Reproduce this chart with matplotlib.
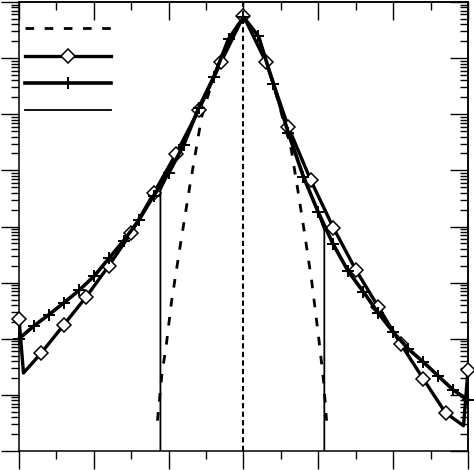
import matplotlib
matplotlib.use("Agg")
import matplotlib.pyplot as plt
from matplotlib.lines import Line2D
from matplotlib.ticker import MultipleLocator, LogLocator, NullFormatter
import numpy as np

# values, stored as log10(y)
x_cross = [-3.0, -2.8, -2.6, -2.4, -2.2, -2.0, -1.8, -1.6, -1.4, -1.2, -1.0,
           -0.8, -0.6, -0.4, -0.2, 0.0, 0.2, 0.4, 0.6, 0.8, 1.0,
           1.2, 1.4, 1.6, 1.8, 2.0, 2.2, 2.4, 2.6, 2.8, 3.0]
cross_log = [-6.00, -5.77, -5.57, -5.36, -5.14, -4.89, -4.57, -4.25, -3.89, -3.45, -3.05,
             -2.55, -1.89, -1.34, -0.66, -0.27, -0.61, -1.46, -2.34, -3.11, -3.75,
             -4.32, -4.80, -5.16, -5.54, -5.88, -6.18, -6.41, -6.66, -6.91, -7.09]

x_dia = [-3.0, -2.94, -2.7, -2.4, -2.1, -1.8, -1.5, -1.2, -0.9, -0.6, -0.3, 0.0,
         0.3, 0.6, 0.9, 1.2, 1.5, 1.8, 2.1, 2.4, 2.7, 2.94, 3.0]
dia_log = [-5.64, -6.61, -6.25, -5.75, -5.25, -4.70, -4.11, -3.41, -2.70, -1.93, -1.07, -0.25,
           -1.07, -2.23, -3.18, -4.02, -4.77, -5.43, -6.09, -6.71, -7.32, -7.55, -6.55]
dia_unmarked = [-2.94, 2.94]

x_dash = [-1.15, -1.09, -1.03, -0.96, -0.85, -0.72, -0.56, -0.4, -0.2, 0.0,
          0.2, 0.4, 0.64, 0.72, 0.81, 0.91, 1.01, 1.07, 1.11]
dash_log = [-7.46, -6.63, -6.09, -5.32, -4.38, -3.30, -2.05, -1.34, -0.66, -0.27,
            -0.61, -1.46, -2.64, -3.30, -4.07, -4.96, -6.04, -6.75, -7.46]

x_thin = [-1.11, -1.11, -1.0, -0.8, -0.6, -0.4, -0.2, 0.0, 0.2, 0.4, 0.6, 0.8, 1.0, 1.08, 1.08]
thin_log = [-9.0, -3.36, -3.05, -2.55, -1.89, -1.34, -0.66, -0.27, -0.61, -1.46, -2.30, -3.08,
            -3.78, -4.07, -9.0]

fig = plt.figure(figsize=(4.74, 4.70), dpi=100)
ax = fig.add_axes([19 / 474, 19 / 470, 449 / 474, 449 / 470])

ax.axvline(0, color="k", lw=1.5, ls=(0, (2.5, 1.6)), zorder=1)
h_dash, = ax.plot(x_dash, 10.0 ** np.array(dash_log), color="k", lw=2.0,
                  ls=(0, (3.1, 3.8)), zorder=2)
h_thin, = ax.plot(x_thin, 10.0 ** np.array(thin_log), color="k", lw=1.3, zorder=2)
ax.plot(x_dia, 10.0 ** np.array(dia_log), color="k", lw=2.4, zorder=3, clip_on=False)
xm = [x for x in x_dia if x not in dia_unmarked]
ym = [10.0 ** v for x, v in zip(x_dia, dia_log) if x not in dia_unmarked]
ax.plot(xm, ym, ls="none", marker="D", ms=7, mfc="white", mec="k", mew=1.1,
        zorder=3.5, clip_on=False)
h_cross, = ax.plot(x_cross, 10.0 ** np.array(cross_log), color="k", lw=2.6, marker="+",
                   ms=9, mew=1.4, zorder=4, clip_on=False)

ax.set_xlim(-3, 3)
ax.set_yscale("log")
ax.set_ylim(1e-8, 1)

ax.xaxis.set_major_locator(MultipleLocator(1))
ax.xaxis.set_minor_locator(MultipleLocator(0.5))
ax.yaxis.set_major_locator(LogLocator(base=10, numticks=20))
ax.yaxis.set_minor_locator(LogLocator(base=10, subs=np.arange(2, 10), numticks=20))
for a in (ax.xaxis, ax.yaxis):
    a.set_major_formatter(NullFormatter())
    a.set_minor_formatter(NullFormatter())
ax.tick_params(which="both", direction="out", width=1.0, top=False, right=False)
ax.tick_params(which="major", length=13)
ax.tick_params(which="minor", length=6)
for s in ax.spines.values():
    s.set_linewidth(1.1)

# top and right ticks point inward
top = ax.secondary_xaxis("top")
top.xaxis.set_major_locator(MultipleLocator(1))
top.xaxis.set_minor_locator(MultipleLocator(0.5))
top.xaxis.set_major_formatter(NullFormatter())
top.xaxis.set_minor_formatter(NullFormatter())
right = ax.secondary_yaxis("right")
right.yaxis.set_major_locator(LogLocator(base=10, numticks=20))
right.yaxis.set_minor_locator(LogLocator(base=10, subs=np.arange(2, 10), numticks=20))
right.yaxis.set_major_formatter(NullFormatter())
right.yaxis.set_minor_formatter(NullFormatter())
for sa in (top, right):
    sa.tick_params(which="both", direction="in", width=1.0)
    sa.tick_params(which="major", length=13)
    sa.tick_params(which="minor", length=6)
    for s in sa.spines.values():
        s.set_linewidth(1.1)

h_dia = Line2D([], [], color="k", lw=2.4, marker="D", ms=7, mfc="white", mec="k", mew=1.1)
ax.legend([h_dash, h_dia, h_cross, h_thin], [" "] * 4, loc="upper left",
          bbox_to_anchor=(0.0134, 0.955), frameon=False, borderaxespad=0, borderpad=0,
          handlelength=6.2, labelspacing=0.95, fontsize=10, numpoints=1, handletextpad=0.2)

fig.savefig("out.png", dpi=100)
